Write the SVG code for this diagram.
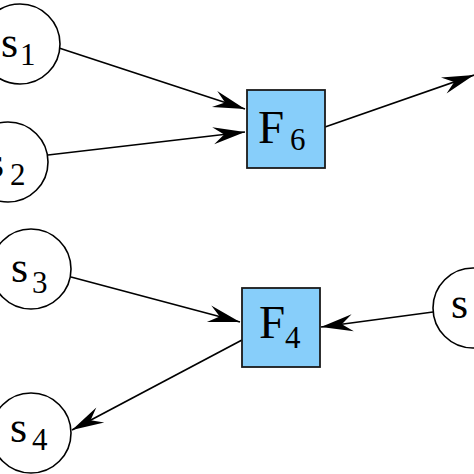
<svg xmlns="http://www.w3.org/2000/svg" width="474" height="474" viewBox="0 0 474 474">
<defs>
<marker id="ah" markerUnits="userSpaceOnUse" markerWidth="40" markerHeight="22" viewBox="-34 -11 36 22" refX="0" refY="0" orient="auto" overflow="visible">
<path d="M0,0 L-32,-8.5 L-21,0 L-32,8.5 Z" fill="#000"/>
</marker>
<style>
.c{fill:#fff;stroke:#000;stroke-width:1.6}
.b{fill:#87cefa;stroke:#1a1a1a;stroke-width:1.8}
.e{stroke:#000;stroke-width:1.7;fill:none;marker-end:url(#ah)}
.t{font-family:"Liberation Serif","Times New Roman",serif;fill:#000}
.m{font-size:44px}
.f{font-size:47px}
.u{font-size:31px}
</style>
</defs>
<rect width="474" height="474" fill="#fff"/>
<g id="edges">
<line class="e" x1="59" y1="48" x2="245" y2="109"/>
<line class="e" x1="48" y1="155" x2="245" y2="132"/>
<line class="e" x1="325" y1="127" x2="474" y2="75"/>
<line class="e" x1="71" y1="277" x2="240" y2="322"/>
<line class="e" x1="433" y1="312" x2="321" y2="327"/>
<line class="e" x1="242" y1="340" x2="72" y2="430"/>
</g>
<g id="s1"><circle class="c" cx="20" cy="44" r="40"/><text class="t m" x="1" y="57">s</text><text class="t u" x="20" y="65">1</text></g>
<g id="s2"><circle class="c" cx="8" cy="162" r="40"/><text class="t m" x="-13" y="177">s</text><text class="t u" x="10" y="185">2</text></g>
<g id="s3"><circle class="c" cx="31" cy="269" r="40"/><text class="t m" x="11" y="282">s</text><text class="t u" x="32" y="293">3</text></g>
<g id="s4"><circle class="c" cx="31" cy="433" r="40"/><text class="t m" x="10" y="442">s</text><text class="t u" x="32" y="450">4</text></g>
<g id="s5"><circle class="c" cx="473" cy="308" r="40"/><text class="t m" x="451" y="318">s</text></g>
<g id="F6"><rect class="b" x="247" y="90" width="78" height="78"/><text class="t f" x="258" y="143">F</text><text class="t u" x="290" y="150">6</text></g>
<g id="F4"><rect class="b" x="242" y="288" width="78" height="79"/><text class="t f" x="259" y="338">F</text><text class="t u" x="285" y="348">4</text></g>
</svg>
